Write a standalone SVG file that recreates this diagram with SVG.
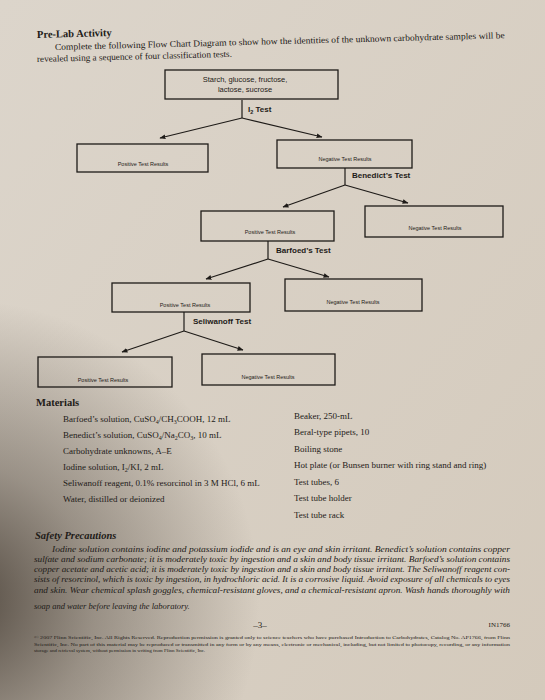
<svg xmlns="http://www.w3.org/2000/svg" width="545" height="700" viewBox="0 0 545 700">
<defs>
<radialGradient id="shade" cx="-40" cy="600" r="300" gradientUnits="userSpaceOnUse">
<stop offset="0" stop-color="#3a3128" stop-opacity="0.85"/>
<stop offset="0.45" stop-color="#3a3128" stop-opacity="0.4"/>
<stop offset="1" stop-color="#3a3128" stop-opacity="0"/>
</radialGradient>
<linearGradient id="paper" x1="0" y1="0" x2="1" y2="1">
<stop offset="0" stop-color="#dcd5cb"/>
<stop offset="1" stop-color="#d4cabc"/>
</linearGradient>
<marker id="arr" viewBox="0 0 10 10" refX="9" refY="5" markerWidth="6" markerHeight="6" orient="auto" markerUnits="userSpaceOnUse">
<path d="M0,1 L10,5 L0,9 z" fill="#1e1b18"/>
</marker>
<style>
.box{fill:none;stroke:#1e1b18;stroke-width:1.3}
.con{fill:none;stroke:#1e1b18;stroke-width:1.2}
.lbl{font-family:"Liberation Sans",Arial,sans-serif;font-size:5.5px;fill:#1e1b18;text-anchor:middle}
.main{font-family:"Liberation Sans",Arial,sans-serif;font-size:7.5px;fill:#1e1b18;text-anchor:middle}
.test{font-family:"Liberation Sans",Arial,sans-serif;font-size:8px;font-weight:bold;fill:#1e1b18}
.ser{font-family:"Liberation Serif","Times New Roman",serif;fill:#1e1b18}
.mat{font-family:"Liberation Serif","Times New Roman",serif;font-size:9px;fill:#1e1b18}
.saf{font-family:"Liberation Serif","Times New Roman",serif;font-size:8.5px;font-style:italic;fill:#1e1b18}
.cpy{font-family:"Liberation Serif","Times New Roman",serif;font-size:5px;fill:#1e1b18}
</style>
</defs>
<rect x="0" y="0" width="545" height="700" fill="url(#paper)"/>
<rect x="0" y="0" width="545" height="700" fill="url(#shade)"/>

<g id="header">
<text class="ser" x="37" y="38" font-size="10.5" font-weight="bold" transform="rotate(-1.5 37 38)">Pre-Lab Activity</text>
<text class="ser" x="55" y="50" font-size="9" textLength="450" lengthAdjust="spacingAndGlyphs" transform="rotate(-1.5 55 50)">Complete the following Flow Chart Diagram to show how the identities of the unknown carbohydrate samples will be</text>
<text class="ser" x="37" y="62" font-size="9" textLength="195" lengthAdjust="spacingAndGlyphs" transform="rotate(-1.5 37 62)">revealed using a sequence of four classification tests.</text>
</g>

<g id="connectors">
<path class="con" d="M242,100 V118"/>
<path class="con" d="M242,118 L160,138" marker-end="url(#arr)"/>
<path class="con" d="M242,118 L322,137" marker-end="url(#arr)"/>
<path class="con" d="M345,168 V185"/>
<path class="con" d="M345,185 L283,207" marker-end="url(#arr)"/>
<path class="con" d="M345,185 L408,203" marker-end="url(#arr)"/>
<path class="con" d="M268,241 V259"/>
<path class="con" d="M268,259 L206,279" marker-end="url(#arr)"/>
<path class="con" d="M268,259 L329,277" marker-end="url(#arr)"/>
<path class="con" d="M184,312 V331"/>
<path class="con" d="M184,331 L122,352" marker-end="url(#arr)"/>
<path class="con" d="M184,331 L243,350" marker-end="url(#arr)"/>
</g>

<g id="test-labels">
<text class="test" x="248" y="112">I<tspan font-size="5.5" dy="2">2</tspan><tspan dy="-2"> Test</tspan></text>
<text class="test" x="352" y="178">Benedict’s Test</text>
<text class="test" x="276" y="253">Barfoed’s Test</text>
<text class="test" x="193" y="324">Seliwanoff Test</text>
</g>

<g id="node-start">
<rect class="box" x="165" y="70" width="173" height="29"/>
<text class="main" x="245" y="82">Starch, glucose, fructose,</text>
<text class="main" x="245" y="92">lactose, sucrose</text>
</g>
<g id="node-i2-positive">
<rect class="box" x="77" y="144" width="131" height="28"/>
<text class="lbl" x="143" y="166">Positive Test Results</text>
</g>
<g id="node-i2-negative">
<rect class="box" x="277" y="140" width="135" height="28"/>
<text class="lbl" x="345" y="161">Negative Test Results</text>
</g>
<g id="node-benedict-positive">
<rect class="box" x="201" y="211" width="133" height="30"/>
<text class="lbl" x="270" y="234">Positive Test Results</text>
</g>
<g id="node-benedict-negative">
<rect class="box" x="365" y="206" width="138" height="31"/>
<text class="lbl" x="435" y="230">Negative Test Results</text>
</g>
<g id="node-barfoed-positive">
<rect class="box" x="112" y="283" width="138" height="29"/>
<text class="lbl" x="185" y="307">Positive Test Results</text>
</g>
<g id="node-barfoed-negative">
<rect class="box" x="285" y="279" width="137" height="32"/>
<text class="lbl" x="353" y="304">Negative Test Results</text>
</g>
<g id="node-seliwanoff-positive">
<rect class="box" x="38" y="357" width="134" height="30"/>
<text class="lbl" x="103" y="382">Positive Test Results</text>
</g>
<g id="node-seliwanoff-negative">
<rect class="box" x="202" y="354" width="133" height="31"/>
<text class="lbl" x="268" y="379">Negative Test Results</text>
</g>

<g id="materials">
<text class="ser" x="36" y="406" font-size="10.5" font-weight="bold">Materials</text>
<text class="mat" x="63" y="422">Barfoed’s solution, CuSO<tspan font-size="6" dy="2">4</tspan><tspan dy="-2">/CH</tspan><tspan font-size="6" dy="2">3</tspan><tspan dy="-2">COOH, 12 mL</tspan></text>
<text class="mat" x="63" y="438">Benedict’s solution, CuSO<tspan font-size="6" dy="2">4</tspan><tspan dy="-2">/Na</tspan><tspan font-size="6" dy="2">2</tspan><tspan dy="-2">CO</tspan><tspan font-size="6" dy="2">3</tspan><tspan dy="-2">, 10 mL</tspan></text>
<text class="mat" x="63" y="454">Carbohydrate unknowns, A–E</text>
<text class="mat" x="63" y="470">Iodine solution, I<tspan font-size="6" dy="2">2</tspan><tspan dy="-2">/KI, 2 mL</tspan></text>
<text class="mat" x="63" y="486">Seliwanoff reagent, 0.1% resorcinol in 3 M HCl, 6 mL</text>
<text class="mat" x="63" y="502">Water, distilled or deionized</text>
<text class="mat" x="294" y="419">Beaker, 250-mL</text>
<text class="mat" x="294" y="435">Beral-type pipets, 10</text>
<text class="mat" x="294" y="452">Boiling stone</text>
<text class="mat" x="294" y="468">Hot plate (or Bunsen burner with ring stand and ring)</text>
<text class="mat" x="294" y="485">Test tubes, 6</text>
<text class="mat" x="294" y="501">Test tube holder</text>
<text class="mat" x="294" y="518">Test tube rack</text>
</g>

<g id="safety">
<text class="ser" x="35" y="539" font-size="10.5" font-weight="bold" font-style="italic">Safety Precautions</text>
<text class="saf" x="52" y="552" textLength="458" lengthAdjust="spacingAndGlyphs">Iodine solution contains iodine and potassium iodide and is an eye and skin irritant. Benedict’s solution contains copper</text>
<text class="saf" x="34" y="562" textLength="476" lengthAdjust="spacingAndGlyphs">sulfate and sodium carbonate; it is moderately toxic by ingestion and a skin and body tissue irritant. Barfoed’s solution contains</text>
<text class="saf" x="34" y="572" textLength="476" lengthAdjust="spacingAndGlyphs">copper acetate and acetic acid; it is moderately toxic by ingestion and a skin and body tissue irritant. The Seliwanoff reagent con-</text>
<text class="saf" x="34" y="582" textLength="476" lengthAdjust="spacingAndGlyphs">sists of resorcinol, which is toxic by ingestion, in hydrochloric acid. It is a corrosive liquid. Avoid exposure of all chemicals to eyes</text>
<text class="saf" x="34" y="593" textLength="476" lengthAdjust="spacingAndGlyphs">and skin. Wear chemical splash goggles, chemical-resistant gloves, and a chemical-resistant apron. Wash hands thoroughly with</text>
<text class="saf" x="34" y="609">soap and water before leaving the laboratory.</text>
</g>

<g id="footer">
<text class="ser" x="260" y="628" font-size="9" text-anchor="middle">–3–</text>
<text class="ser" x="510" y="627" font-size="7" text-anchor="end">IN1766</text>
<text class="cpy" x="34" y="639" textLength="476" lengthAdjust="spacingAndGlyphs">© 2007 Flinn Scientific, Inc. All Rights Reserved. Reproduction permission is granted only to science teachers who have purchased Introduction to Carbohydrates, Catalog No. AP1766, from Flinn</text>
<text class="cpy" x="34" y="645.5" textLength="476" lengthAdjust="spacingAndGlyphs">Scientific, Inc. No part of this material may be reproduced or transmitted in any form or by any means, electronic or mechanical, including, but not limited to photocopy, recording, or any information</text>
<text class="cpy" x="34" y="652">storage and retrieval system, without permission in writing from Flinn Scientific, Inc.</text>
</g>
</svg>
